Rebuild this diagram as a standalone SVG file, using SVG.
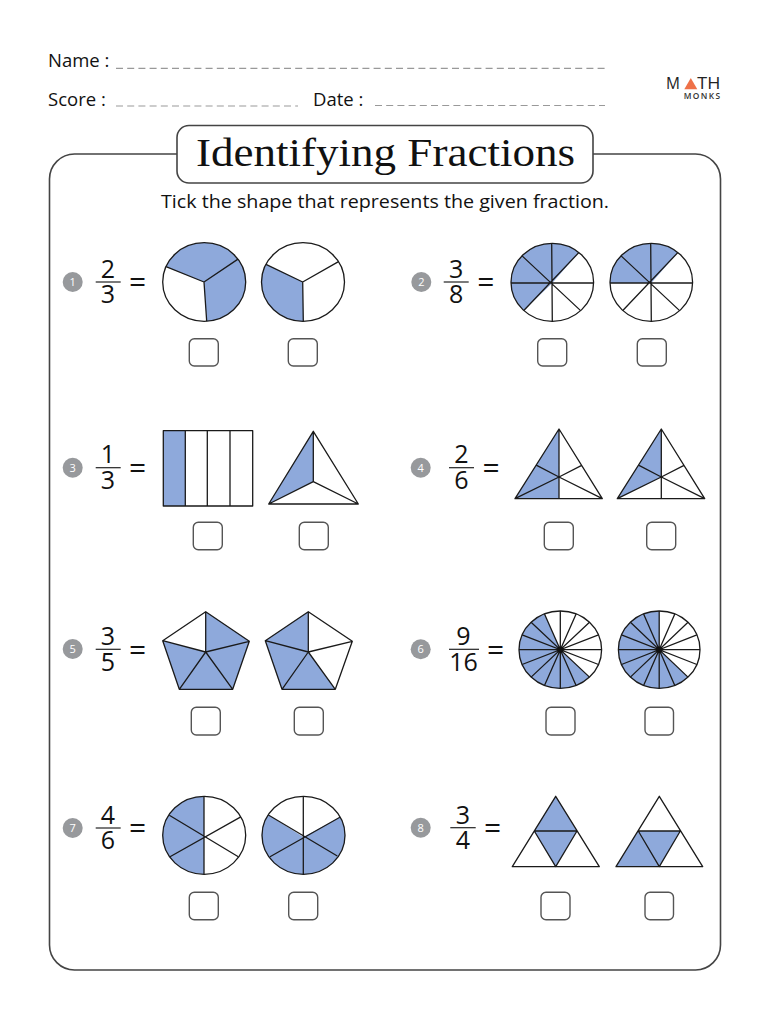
<svg xmlns="http://www.w3.org/2000/svg" width="768" height="1024" viewBox="0 0 768 1024">
<style>
.t{font-family:"Open Sans","Noto Sans",sans-serif;fill:#111}
.num{font-family:"Open Sans","Noto Sans",sans-serif;font-size:25px;fill:#111;text-anchor:middle}
.eq{font-family:"Open Sans","Noto Sans",sans-serif;font-size:30px;fill:#111;text-anchor:middle}
.b{fill:#97999c}
.bt{font-family:"Open Sans","Noto Sans",sans-serif;font-size:11px;fill:#fff;text-anchor:middle}
.bar{stroke:#222;stroke-width:1.2;fill:none}
.s{fill:#8ea9db;stroke:none}
.o{fill:none;stroke:#1a1a1a;stroke-width:1.3;stroke-linejoin:round}
.c{fill:#fff;stroke:#555;stroke-width:1.4}
.d{stroke:#999;stroke-width:1.2;stroke-dasharray:7 4.2;fill:none}
</style>
<rect width="768" height="1024" fill="#fff"/>
<g id="header">
<text class="t" x="48" y="67.300" font-size="18.500">Name :</text>
<text class="t" x="48" y="105.700" font-size="18.500">Score :</text>
<text class="t" x="313" y="105.700" font-size="18.500">Date :</text>
<path class="d" d="M116 68.300H605M116 106H298M375 105.500H605"/>
</g>
<g id="logo">
<text x="666" y="89.300" font-family="Open Sans,sans-serif" font-size="15.500" font-weight="500" fill="#222">M</text>
<polygon points="684.300,89.300 690.800,78 697.300,89.300" fill="#ee7148"/>
<text x="697.300" y="89.300" font-family="Open Sans,sans-serif" font-size="15.500" font-weight="500" fill="#222" textLength="23" lengthAdjust="spacingAndGlyphs">TH</text>
<text x="683.700" y="98.700" font-family="Open Sans,sans-serif" font-size="8.400" font-weight="600" fill="#333" textLength="36.500">MONKS</text>
</g>
<rect id="frame" x="49.500" y="154" width="671" height="816" rx="25" fill="none" stroke="#444" stroke-width="1.6"/>
<g id="title">
<rect x="177" y="125.500" width="416" height="57.500" rx="12" fill="#fff" stroke="#444" stroke-width="1.6"/>
<text x="196" y="166" font-family="Liberation Serif,serif" font-size="41" textLength="379" lengthAdjust="spacingAndGlyphs" fill="#111">Identifying Fractions</text>
</g>
<text id="instruction" class="t" x="161" y="208" font-size="18" textLength="448" lengthAdjust="spacingAndGlyphs">Tick the shape that represents the given fraction.</text>

<g id="q1">
<circle class="b" cx="72.700" cy="282" r="10"/><text class="bt" x="72.700" y="286">1</text>
<text class="num" x="108" y="278">2</text><path class="bar" d="M95.700 282H120.700"/><text class="num" x="108" y="303">3</text>
<text class="eq" x="137.500" y="292">=</text>
<path class="s" d="M204 282L238 259.100A41.500 39.300 0 0 1 206.700 321.300ZM204 282L238 259.100A41.500 39.300 0 0 0 166 266.700Z"/>
<path class="o" d="M238 259.100L204 282L206.700 321.300M204 282L166 266.700"/><ellipse class="o" cx="204.200" cy="282" rx="41.500" ry="39.300"/>
<path class="s" d="M302.700 282L266 264.300A41.500 39.300 0 0 0 303.300 321.300Z"/>
<path class="o" d="M338.500 261.600L302.700 282L303.300 321.300M302.700 282L266 264.300"/><ellipse class="o" cx="303" cy="282" rx="41.500" ry="39.300"/>
<rect class="c" x="189.300" y="338.700" width="29" height="27.300" rx="5"/><rect class="c" x="288.300" y="338.700" width="29" height="27.300" rx="5"/>
</g>

<g id="q2">
<circle class="b" cx="421.300" cy="282" r="10"/><text class="bt" x="421.300" y="286">2</text>
<text class="num" x="456.200" y="278">3</text><path class="bar" d="M443.700 282H468.700"/><text class="num" x="456.200" y="303">8</text>
<text class="eq" x="485.800" y="292">=</text>
<path class="s" d="M552.300 283L579 252.400A41.300 39 0 0 0 511 283A41.300 39 0 0 0 523.800 310.500Z"/>
<path class="o" d="M551.700 243.300L552.300 321.300M511 283H593.700M579 252.400L523.800 310.500M521.800 255.600L580.600 310.600"/><ellipse class="o" cx="552.300" cy="282.300" rx="41.300" ry="39"/>
<path class="s" d="M651.300 283L678 252.400A41.300 39 0 0 0 610 283Z"/>
<path class="o" d="M650.700 243.300L651.300 321.300M610 283H692.700M678 252.400L622.800 310.500M620.800 255.600L679.600 310.600"/><ellipse class="o" cx="651.300" cy="282.300" rx="41.300" ry="39"/>
<rect class="c" x="537.700" y="338.700" width="29" height="27.300" rx="5"/><rect class="c" x="637.300" y="338.700" width="29" height="27.300" rx="5"/>
</g>

<g id="q3">
<circle class="b" cx="72.700" cy="467.700" r="10"/><text class="bt" x="72.700" y="471.700">3</text>
<text class="num" x="108" y="463.300">1</text><path class="bar" d="M95.700 467.700H120.700"/><text class="num" x="108" y="488.700">3</text>
<text class="eq" x="137.500" y="478">=</text>
<rect class="s" x="163.300" y="430.700" width="22" height="75.300"/>
<path class="o" d="M163.300 430.700H252.700V506H163.300ZM185.300 430.700V506M207.300 430.700V506M230 430.700V506"/>
<polygon class="s" points="313.300,431.300 268.700,504 313.300,481.700"/>
<path class="o" d="M313.300 431.300L358.300 504H268.700ZM313.300 431.300V481.700M268.700 504L313.300 481.700L358.300 504"/>
<rect class="c" x="193.300" y="522.300" width="29" height="27.400" rx="5"/><rect class="c" x="299.300" y="522.300" width="29" height="27.400" rx="5"/>
</g>

<g id="q4">
<circle class="b" cx="420.700" cy="467.700" r="10"/><text class="bt" x="420.700" y="471.700">4</text>
<text class="num" x="461.500" y="463.300">2</text><path class="bar" d="M449 467.700H474"/><text class="num" x="461.500" y="488.700">6</text>
<text class="eq" x="491" y="478">=</text>
<polygon class="s" points="559,429 515,498.700 559,498.700"/>
<path class="o" d="M559 429L602.300 498.700H515ZM559 429V498.700M515 498.700L559 477L581.700 465.300M602.300 498.700L559 477L536.700 465.300"/>
<polygon class="s" points="661.300,429 617.300,498.700 661.300,477"/>
<path class="o" d="M661.300 429L704.700 498.700H617.300ZM661.300 429V498.700M617.300 498.700L661.300 477L684 465.300M704.700 498.700L661.300 477L639 465.300"/>
<rect class="c" x="544.300" y="522.300" width="29" height="27.400" rx="5"/><rect class="c" x="646.700" y="522.300" width="29" height="27.400" rx="5"/>
</g>

<g id="q5">
<circle class="b" cx="72.700" cy="649" r="10"/><text class="bt" x="72.700" y="653">5</text>
<text class="num" x="108" y="645">3</text><path class="bar" d="M95.700 649.300H120.700"/><text class="num" x="108" y="670.700">5</text>
<text class="eq" x="137.500" y="659.500">=</text>
<polygon class="s" points="205.700,611.700 249.300,641.300 232.700,689.300 179.300,689.300 162.700,640.700 205.700,652"/>
<path class="o" d="M205.700 611.700L249.300 641.300L232.700 689.300H179.300L162.700 640.700ZM205.700 611.700V652M249.300 641.300L205.700 652L232.700 689.300M179.300 689.300L205.700 652L162.700 640.700"/>
<polygon class="s" points="308.300,611.700 265.300,640.700 282,689.300 335.300,689.300 308.300,652"/>
<path class="o" d="M308.300 611.700L352.300 641.300L335.300 689.300H282L265.300 640.700ZM308.300 611.700V652M352.300 641.300L308.300 652L335.300 689.300M282 689.300L308.300 652L265.300 640.700"/>
<rect class="c" x="191.300" y="707.300" width="29" height="27.700" rx="5"/><rect class="c" x="294.300" y="707.300" width="29" height="27.700" rx="5"/>
</g>

<g id="q6">
<circle class="b" cx="420.700" cy="649.300" r="10"/><text class="bt" x="420.700" y="653.300">6</text>
<text class="num" x="463.500" y="645">9</text><path class="bar" d="M449 649.300H479"/><text class="num" x="463.500" y="670.700">16</text>
<text class="eq" x="495.600" y="659.500">=</text>
<path class="s" d="M560.300 649.700L589.500 677.100A41.300 38.700 0 1 1 544.500 613.950Z"/>
<path class="o" d="M560.300 611V688.400M576.100 613.950L544.500 685.450M589.500 622.300L531.100 677.100M598.500 634.900L522.100 664.500M519 649.700H601.600M522.100 634.900L598.500 664.500M531.100 622.300L589.500 677.100M544.500 613.950L576.100 685.450"/>
<ellipse class="o" cx="560.300" cy="649.700" rx="41.300" ry="38.700"/><circle cx="560.300" cy="649.700" r="3" fill="#111"/>
<path class="s" d="M659.200 649.700L688 677.100A40.800 38.700 0 1 1 659.200 611Z"/>
<path class="o" d="M659.200 611V688.400M674.800 613.950L643.600 685.450M688 622.300L630.400 677.100M696.900 634.900L621.500 664.500M618.400 649.700H700M621.500 634.900L696.900 664.500M630.400 622.300L688 677.100M643.600 613.950L674.800 685.450"/>
<ellipse class="o" cx="659.200" cy="649.700" rx="40.800" ry="38.700"/><circle cx="659.200" cy="649.700" r="3" fill="#111"/>
<rect class="c" x="546" y="707.300" width="29" height="27.700" rx="5"/><rect class="c" x="645" y="707.300" width="28.500" height="27.700" rx="5"/>
</g>

<g id="q7">
<circle class="b" cx="72.700" cy="828" r="10"/><text class="bt" x="72.700" y="832">7</text>
<text class="num" x="108" y="824">4</text><path class="bar" d="M95.700 828H120.700"/><text class="num" x="108" y="849.300">6</text>
<text class="eq" x="137.500" y="838">=</text>
<path class="s" d="M204 837V796.300A41.500 39 0 0 0 204 874.300Z"/>
<path class="o" d="M204 796.300V874.300M240.800 816.900L170 856.700M238.300 856.700L169.300 815.300"/><ellipse class="o" cx="204.200" cy="835.300" rx="41.500" ry="39"/>
<path class="s" d="M303.300 837L340.300 817A41.500 39 0 0 1 303.300 874.300A41.500 39 0 0 1 268 814.700Z"/>
<path class="o" d="M303.300 796.300V874.300M340.300 817L270 856.700M337.300 856L268 814.700"/><ellipse class="o" cx="303.500" cy="835.300" rx="41.500" ry="39"/>
<rect class="c" x="189.300" y="892.300" width="29" height="27.400" rx="5"/><rect class="c" x="288.700" y="892.300" width="29" height="27.400" rx="5"/>
</g>

<g id="q8">
<circle class="b" cx="420.700" cy="827.700" r="10"/><text class="bt" x="420.700" y="831.700">8</text>
<text class="num" x="463" y="824">3</text><path class="bar" d="M450.300 827.700H475.700"/><text class="num" x="463" y="849.300">4</text>
<text class="eq" x="492.600" y="838">=</text>
<polygon class="s" points="555.700,796.300 577,831 555.700,866.700 534.300,831"/>
<path class="o" d="M555.700 796.300L599.300 866.700H512.300ZM534.300 831H577L555.700 866.700Z"/>
<polygon class="s" points="638.300,831 680.300,831 659.300,866.700 616,866.700"/>
<path class="o" d="M659.300 796.300L702.700 866.700H616ZM638.300 831H680.300L659.300 866.700Z"/>
<rect class="c" x="541" y="892.300" width="29" height="27.400" rx="5"/><rect class="c" x="645" y="892.300" width="28.500" height="27.400" rx="5"/>
</g>
</svg>
